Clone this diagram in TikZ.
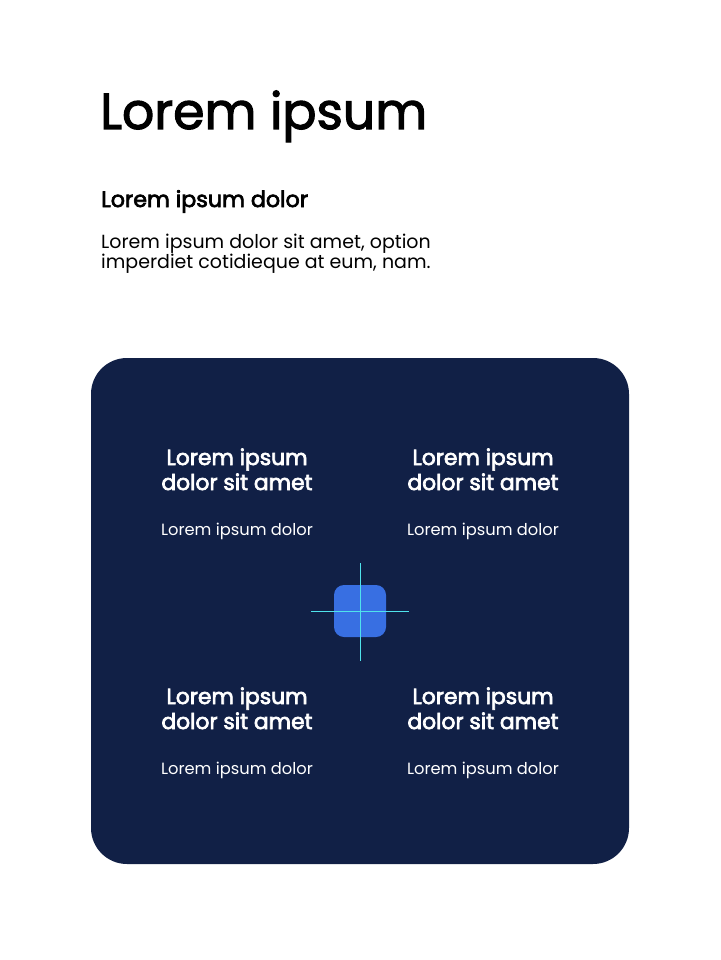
\documentclass[tikz,border=0pt]{standalone}
\usepackage{fontspec}
\setmainfont{Poppins}
\newfontfamily\semibold[FakeBold=3]{Poppins}
\newfontfamily\medium[FakeBold=2.2]{Poppins}
\definecolor{panel}{HTML}{112046}
\definecolor{sq}{HTML}{386FE2}
\definecolor{cy}{HTML}{4FE3EC}
\tikzset{
  head/.style={text=white, font=\semibold\fontsize{21.8}{25}\selectfont, align=center, inner sep=0pt, anchor=base},
  sub/.style={text=white, font=\fontsize{16.3}{18}\selectfont, inner sep=0pt, anchor=base},
}
\begin{document}
\begin{tikzpicture}[x=1pt,y=-1pt]
\useasboundingbox (0,0) rectangle (720,960);
\fill[white] (0,0) rectangle (720,960);
\node[anchor=base west, inner sep=0pt, font=\medium\fontsize{50.5}{60}\selectfont] (title) at (100,129) {Lorem ipsum};
\node[anchor=base west, inner sep=0pt, font=\semibold\fontsize{22.2}{24}\selectfont] (subtitle) at (101,207) {Lorem ipsum dolor};
\node[anchor=base west, inner sep=0pt, align=left, font=\fontsize{19}{20}\selectfont] (body) at (101,268) {Lorem ipsum dolor sit amet, option\\imperdiet cotidieque at eum, nam.};
\fill[panel, rounded corners=36] (91,358) rectangle (629,864);
\fill[sq, rounded corners=10] (334,585) rectangle (386,637);
\coordinate (hl) at (311,611); \coordinate (hr) at (409,611);
\coordinate (vt) at (360,563); \coordinate (vb) at (360,661);
\draw[cy, line width=0.8] (hl) -- (hr);
\draw[cy, line width=0.8] (vt) -- (vb);
\foreach \cx/\hy/\sy/\n in {237/490/535/a, 483/490/535/b, 237/729/774/c, 483/729/774/d}{
  \node[head] (h\n) at (\cx,\hy) {Lorem ipsum\\dolor sit amet};
  \node[sub] (s\n) at (\cx,\sy) {Lorem ipsum dolor};
}
\end{tikzpicture}
\end{document}
